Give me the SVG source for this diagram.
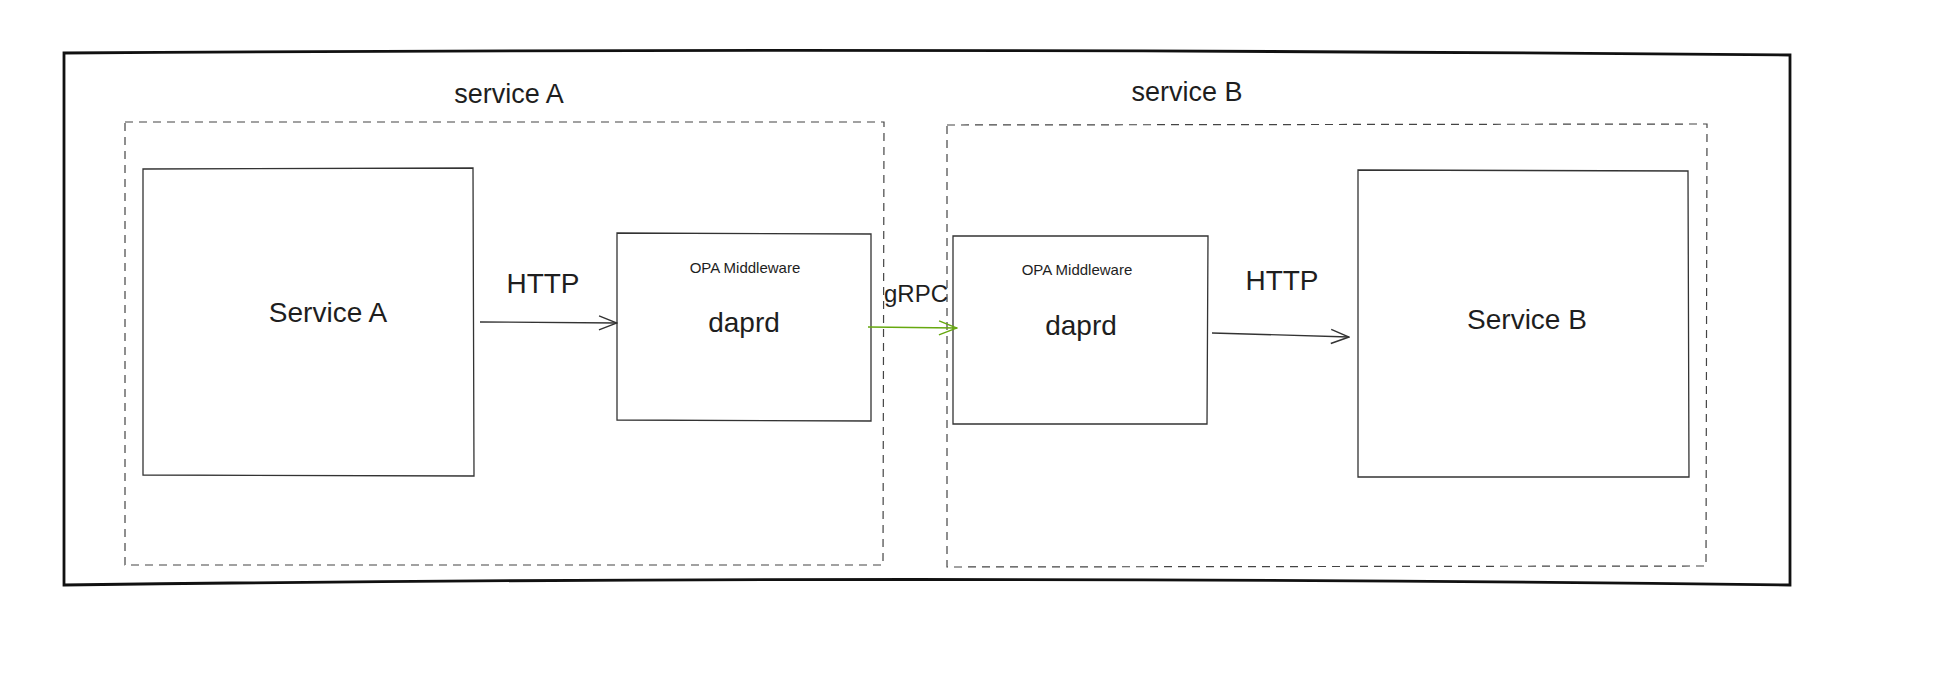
<svg xmlns="http://www.w3.org/2000/svg" width="1934" height="680" viewBox="0 0 1934 680">
<style>
.t{font-family:"Liberation Sans",Arial,sans-serif;fill:#1e1e1e;text-anchor:middle}
.box{fill:none;stroke:#333;stroke-width:1.3}
.dash{fill:none;stroke:#444;stroke-width:1.2;stroke-dasharray:8 6}
.outer{fill:none;stroke:#111;stroke-width:2.8}
.conn{fill:none;stroke:#333;stroke-width:1.3}
</style>
<defs>
<marker id="ah" viewBox="0 0 20 20" refX="19" refY="10" markerWidth="20" markerHeight="20" markerUnits="userSpaceOnUse" orient="auto">
<path d="M1 3 L19 10 L1 17" fill="none" stroke="#333" stroke-width="1.4"/>
</marker>
<marker id="ahg" viewBox="0 0 20 20" refX="19" refY="10" markerWidth="20" markerHeight="20" markerUnits="userSpaceOnUse" orient="auto">
<path d="M1 3 L19 10 L1 17" fill="none" stroke="#66a80f" stroke-width="1.4"/>
</marker>
</defs>
<rect width="1934" height="680" fill="#fff"/>
<g id="outer">
<path class="outer" d="M64 53 Q900 47 1790 55 L1790 585 Q900 574 64 585 Z"/>
</g>
<g id="groupA">
<path class="dash" d="M125 122 L884 122 L883 565 L125 565 Z"/>
<text class="t" x="509" y="103" font-size="27">service A</text>
</g>
<g id="groupB">
<path class="dash" d="M947 125 L1707 124 L1706 566 L947 567 Z"/>
<text class="t" x="1187" y="101" font-size="27">service B</text>
</g>
<g id="serviceA">
<path class="box" d="M143 169 L473 168 L474 476 L143 475 Z"/>
<text class="t" x="328" y="322" font-size="28">Service A</text>
</g>
<g id="daprdA">
<path class="box" d="M617 233 L871 234 L871 421 L617 420 Z"/>
<text class="t" x="745" y="273" font-size="15">OPA Middleware</text>
<text class="t" x="744" y="332" font-size="28">daprd</text>
</g>
<g id="daprdB">
<path class="box" d="M953 236 L1208 236 L1207 424 L953 424 Z"/>
<text class="t" x="1077" y="275" font-size="15">OPA Middleware</text>
<text class="t" x="1081" y="335" font-size="28">daprd</text>
</g>
<g id="serviceB">
<path class="box" d="M1358 170 L1688 171 L1689 477 L1358 477 Z"/>
<text class="t" x="1527" y="329" font-size="28">Service B</text>
</g>
<g id="connectors">
<path class="conn" d="M480 322 L617 323" marker-end="url(#ah)"/>
<text class="t" x="543" y="293" font-size="28">HTTP</text>
<path d="M868 327 L957 328" fill="none" stroke="#66a80f" stroke-width="1.4" marker-end="url(#ahg)"/>
<text class="t" x="916" y="302" font-size="24">gRPC</text>
<path class="conn" d="M1212 333 L1349 337" marker-end="url(#ah)"/>
<text class="t" x="1282" y="290" font-size="28">HTTP</text>
</g>
</svg>
